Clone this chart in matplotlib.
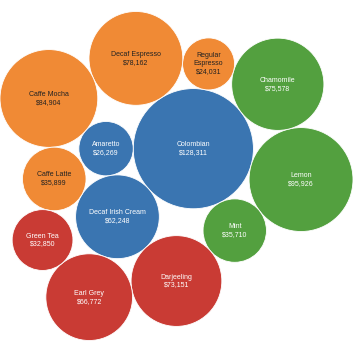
import numpy as np
import matplotlib
matplotlib.use("Agg")
import matplotlib.pyplot as plt
from matplotlib.patches import Circle

# product sales, grouped by product type
products = ["Colombian", "Lemon", "Chamomile", "Mint", "Regular\nEspresso",
            "Decaf Espresso", "Amaretto", "Caffe Mocha", "Decaf Irish Cream",
            "Darjeeling", "Earl Grey", "Caffe Latte", "Green Tea"]
sales = [128311, 95926, 75578, 35710, 24031,
         78162, 26269, 84904, 62248,
         73151, 66772, 35899, 32850]
ptype = ["Coffee", "Herbal Tea", "Herbal Tea", "Herbal Tea", "Espresso",
         "Espresso", "Coffee", "Espresso", "Coffee",
         "Tea", "Tea", "Espresso", "Tea"]

colors = {"Coffee": "#3a75b1", "Espresso": "#f08a35",
          "Herbal Tea": "#53a03f", "Tea": "#c93b34"}
text_colors = {"Coffee": "white", "Espresso": "#222222",
               "Herbal Tea": "white", "Tea": "white"}

# packing: each bubble sits on the first one at an angle, or touches two
# already placed bubbles (side +1 = left of a->b, -1 = right)
packing = [None, ("angle", 0, -16), ("touch", 0, 1, 1), ("touch", 0, 1, -1),
           ("touch", 0, 2, 1), ("touch", 0, 4, 1), ("angle", 0, 180),
           ("touch", 5, 6, -1), ("touch", 6, 0, -1), ("touch", 8, 3, -1),
           ("touch", 9, 8, 1), ("touch", 7, 8, -1), ("touch", 11, 10, -1)]


def tangent(a, ra, b, rb, r, side):
    d = np.linalg.norm(b - a)
    da, db = ra + r, rb + r
    x = (da**2 - db**2 + d**2) / (2 * d)
    h = np.sqrt(max(da**2 - x**2, 0))
    u = (b - a) / d
    n = np.array([-u[1], u[0]])
    return a + u * x + side * n * h


radii = np.sqrt(np.array(sales, dtype=float))
centers = np.zeros((len(sales), 2))
for i, rule in enumerate(packing):
    if rule is None:
        continue
    if rule[0] == "angle":
        j, ang = rule[1], np.radians(rule[2])
        centers[i] = centers[j] + (radii[j] + radii[i]) * np.array([np.cos(ang), np.sin(ang)])
    else:
        _, j, k, side = rule
        centers[i] = tangent(centers[j], radii[j], centers[k], radii[k], radii[i], side)

fig = plt.figure(figsize=(3.53, 3.52), dpi=100)
ax = fig.add_axes([0, 0, 1, 1])

for (cx, cy), r, name, val, t in zip(centers, radii, products, sales, ptype):
    ax.add_patch(Circle((cx, cy), r, facecolor=colors[t], edgecolor="white", linewidth=0.6))
    ax.text(cx, cy, f"{name}\n${val:,}", ha="center", va="center",
            fontsize=5.0, color=text_colors[t], family="Liberation Sans",
            linespacing=1.2)

x0 = (centers[:, 0] - radii).min()
x1 = (centers[:, 0] + radii).max()
y0 = (centers[:, 1] - radii).min()
y1 = (centers[:, 1] + radii).max()
ax.set_xlim(x0, x1)
ax.set_ylim(y0, y1)
ax.set_aspect("equal", adjustable="datalim")
ax.axis("off")

fig.savefig("out.png", dpi=100)
